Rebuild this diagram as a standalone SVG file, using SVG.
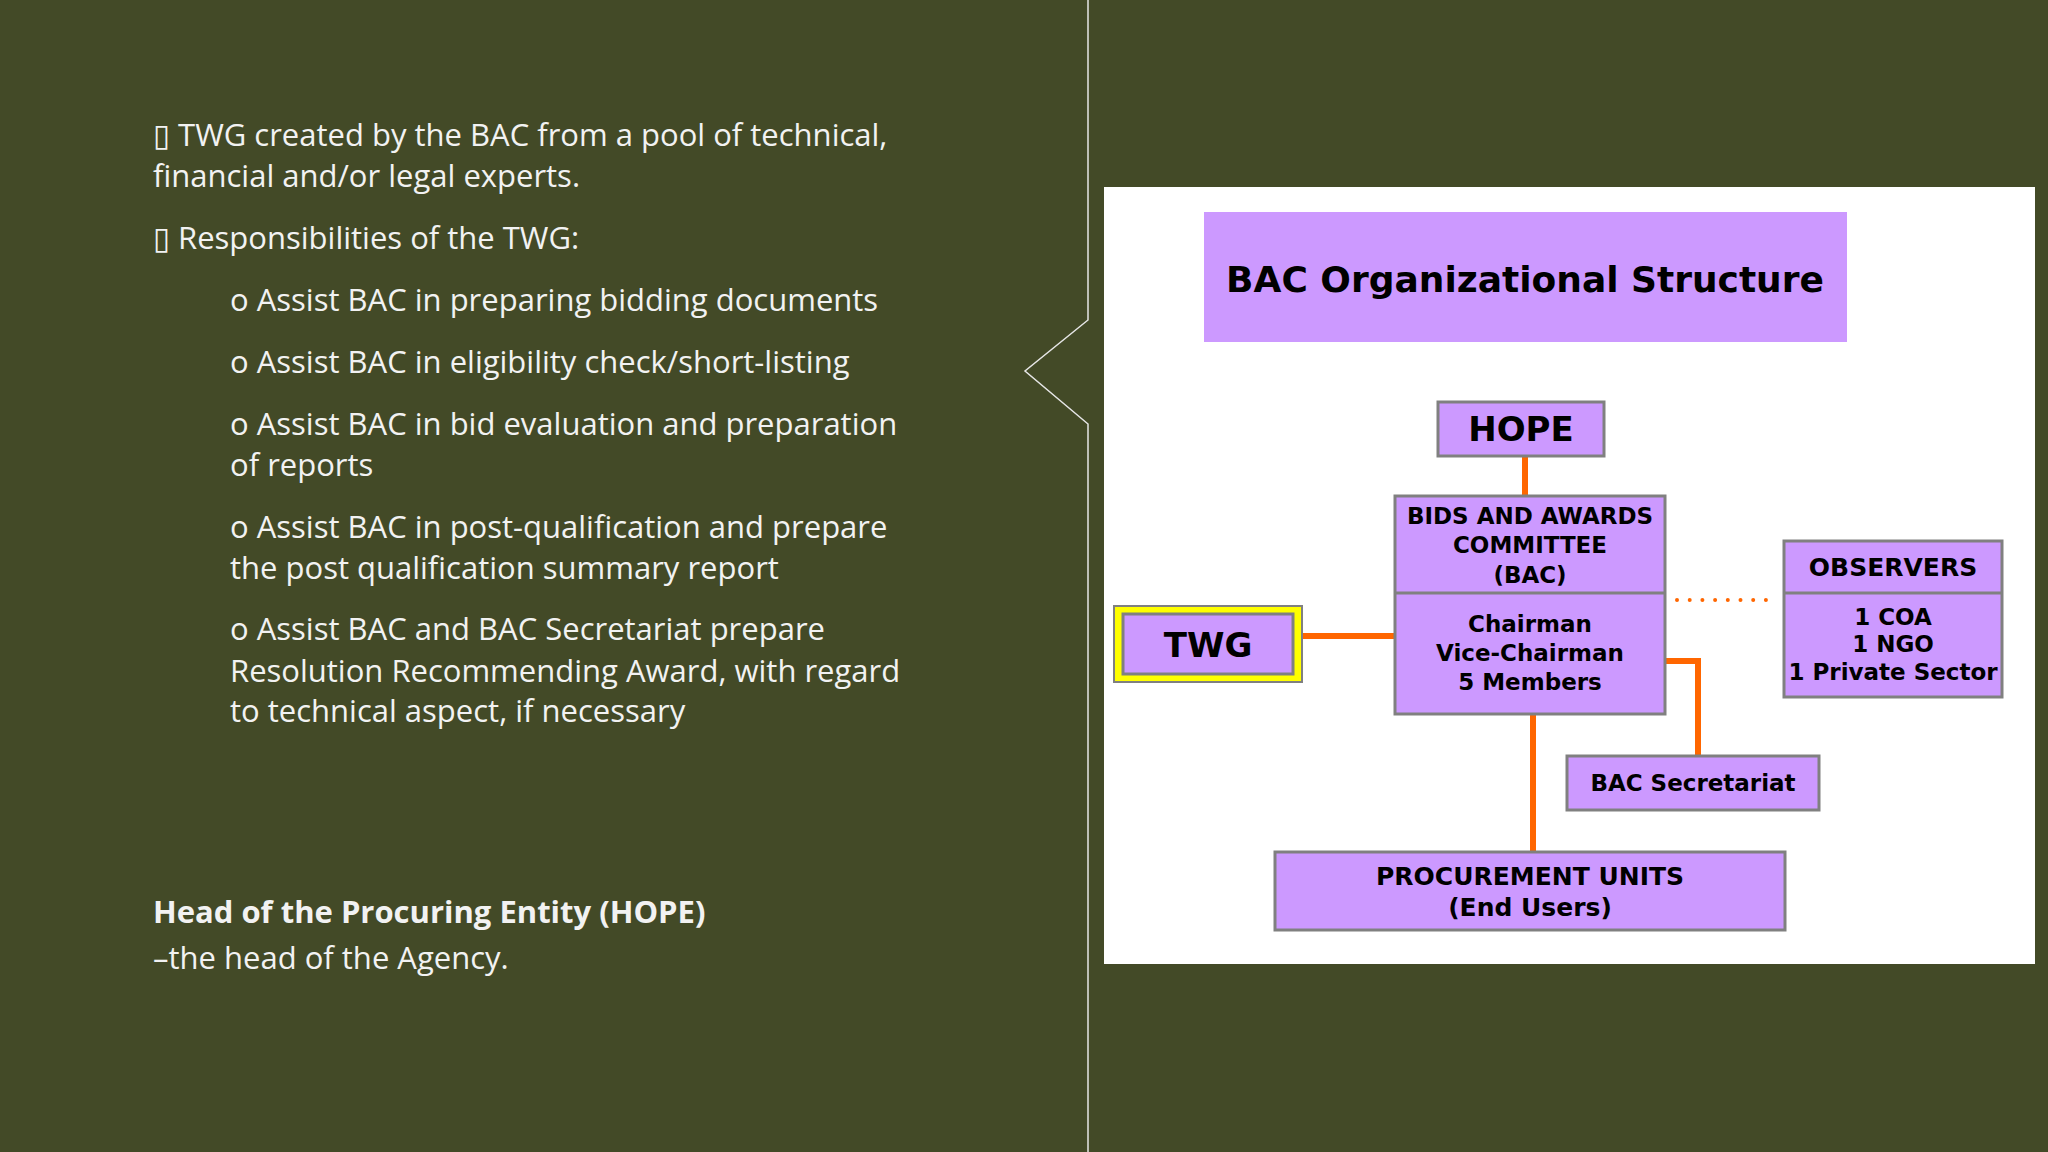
<svg xmlns="http://www.w3.org/2000/svg" width="2048" height="1152" viewBox="0 0 2048 1152">
<style>
.t{font-family:"Open Sans","Noto Sans",sans-serif;font-size:31px;fill:#f2f2f2}
.b{fill:#cc99ff;stroke:#808080;stroke-width:3}
.n{font-family:"DejaVu Sans",sans-serif;font-weight:bold;fill:#000;text-anchor:middle}
.c{stroke:#ff6600;stroke-width:6;fill:none}
</style>
<rect width="2048" height="1152" fill="#434a27"/>
<path d="M1088 0 V320 L1025 371 L1088 424 V1152" fill="none" stroke="#e6e6e6" stroke-width="1.5"/>
<g id="text">
<text class="t" x="153" y="146">▯ TWG created by the BAC from a pool of technical,</text>
<text class="t" x="153" y="187">financial and/or legal experts.</text>
<text class="t" x="153" y="249">▯ Responsibilities of the TWG:</text>
<text class="t" x="230" y="311">o Assist BAC in preparing bidding documents</text>
<text class="t" x="230" y="373">o Assist BAC in eligibility check/short-listing</text>
<text class="t" x="230" y="435">o Assist BAC in bid evaluation and preparation</text>
<text class="t" x="230" y="476">of reports</text>
<text class="t" x="230" y="538">o Assist BAC in post-qualification and prepare</text>
<text class="t" x="230" y="579">the post qualification summary report</text>
<text class="t" x="230" y="640">o Assist BAC and BAC Secretariat prepare</text>
<text class="t" x="230" y="682">Resolution Recommending Award, with regard</text>
<text class="t" x="230" y="722">to technical aspect, if necessary</text>
<text class="t" x="153" y="923" font-weight="bold" font-size="35">Head of the Procuring Entity (HOPE)</text>
<text class="t" x="153" y="969" font-size="35">–the head of the Agency.</text>
</g>
<rect x="1104" y="187" width="931" height="777" fill="#fff"/>
<g id="connectors">
<line class="c" x1="1525" y1="456" x2="1525" y2="496"/>
<line class="c" x1="1302" y1="636" x2="1395" y2="636"/>
<line class="c" x1="1533" y1="714" x2="1533" y2="852"/>
<polyline class="c" points="1665,661 1698,661 1698,756"/>
<line x1="1677" y1="600" x2="1768" y2="600" stroke="#ff6600" stroke-width="4" stroke-dasharray="0 12.7" stroke-linecap="round"/>
</g>
<g id="title"><rect x="1204" y="212" width="643" height="130" fill="#cc99ff"/>
<text class="n" x="1525" y="292" font-family="DejaVu Sans Condensed,sans-serif" font-size="36">BAC Organizational Structure</text></g>
<g id="hope"><rect class="b" x="1438" y="402" width="166" height="54"/><text class="n" x="1521" y="441" font-size="34">HOPE</text></g>
<g id="bac"><rect class="b" x="1395" y="496" width="270" height="218"/><line x1="1395" y1="593" x2="1665" y2="593" stroke="#808080" stroke-width="3"/>
<text class="n" font-size="23"><tspan x="1530" y="524">BIDS AND AWARDS</tspan><tspan x="1530" y="553">COMMITTEE</tspan><tspan x="1530" y="583">(BAC)</tspan><tspan x="1530" y="632">Chairman</tspan><tspan x="1530" y="661">Vice-Chairman</tspan><tspan x="1530" y="690">5 Members</tspan></text></g>
<g id="twg"><rect x="1114" y="606" width="188" height="76" fill="#ffff00" stroke="#808080" stroke-width="2"/><rect class="b" x="1123" y="614" width="170" height="60"/><text class="n" x="1208" y="657" font-size="34">TWG</text></g>
<g id="observers"><rect class="b" x="1784" y="541" width="218" height="156"/><line x1="1784" y1="593" x2="2002" y2="593" stroke="#808080" stroke-width="3"/>
<text class="n" font-size="23"><tspan x="1893" y="576" font-size="25">OBSERVERS</tspan><tspan x="1893" y="625">1 COA</tspan><tspan x="1893" y="652">1 NGO</tspan><tspan x="1893" y="680">1 Private Sector</tspan></text></g>
<g id="secretariat"><rect class="b" x="1567" y="756" width="252" height="54"/><text class="n" x="1693" y="791" font-size="23">BAC Secretariat</text></g>
<g id="procurement"><rect class="b" x="1275" y="852" width="510" height="78"/><text class="n" font-size="25"><tspan x="1530" y="885">PROCUREMENT UNITS</tspan><tspan x="1530" y="916">(End Users)</tspan></text></g>
</svg>
